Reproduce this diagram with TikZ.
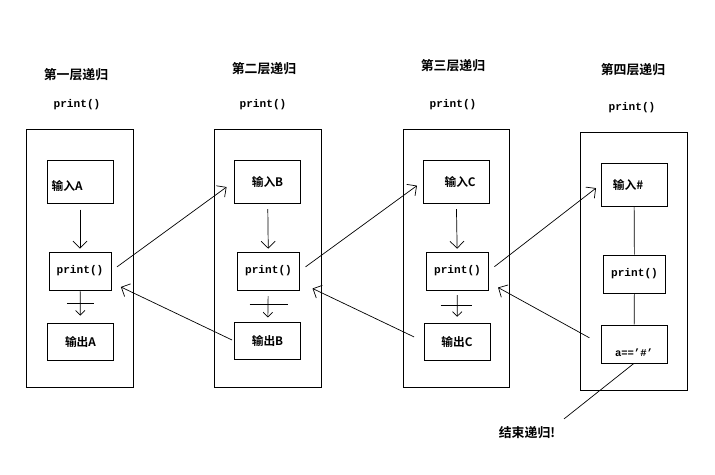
\documentclass[tikz,border=0pt]{standalone}
\usepackage{fontspec}
\setmainfont{Noto Sans CJK SC}[BoldFont={Noto Sans CJK SC Bold}]
\newfontfamily\monobf{Liberation Mono Bold}
\usetikzlibrary{arrows.meta}
\tikzstyle{Rahmen}= [draw,minimum width=3.2cm,minimum height=7.74cm,inner sep=0pt]
\tikzstyle{Kasten}= [draw,minimum width=1.98cm,minimum height=1.29cm,inner sep=0pt,font=\bfseries\fontsize{10}{12}\selectfont]
\tikzstyle{Druck}= [draw,minimum width=1.86cm,minimum height=1.14cm,inner sep=0pt,font=\monobf\fontsize{9.5}{11}\selectfont]
\tikzstyle{Titel}= [font=\bfseries\fontsize{11}{13}\selectfont]
\tikzstyle{Aufruf}= [font=\monobf\fontsize{9.5}{11}\selectfont]
\tikzstyle{Pfeil}= [-{Straight Barb[length=6pt,width=12pt]}]
\tikzstyle{Klein}= [-{Straight Barb[length=4pt,width=8pt]}]

\begin{document}
\begin{tikzpicture}[x=0.03cm,y=-0.03cm,line width=0.6pt]

		\useasboundingbox (0,0) rectangle (715,475);

		% Ebene 1
		\node [Titel] (t1) at (76,75) {第一层递归};
		\node [Aufruf] (l1) at (77,105) {print()};
		\node [Rahmen] (r1) at (80,258) {};
		\node [Kasten] (e1) at (80,182) {\raisebox{-7pt}[0pt][0pt]{输入A}\hspace*{22pt}};
		\node [Druck] (p1) at (80,271) {print()};
		\node [Kasten,minimum height=1.11cm] (a1) at (80.5,341.5) {输出A};

		% Ebene 2
		\node [Titel] (t2) at (264,69) {第二层递归};
		\node [Aufruf] (l2) at (263,105) {print()};
		\node [Rahmen] (r2) at (268,258) {};
		\node [Kasten] (e2) at (267.5,181.5) {输入B};
		\node [Druck] (p2) at (268.5,271) {print()};
		\node [Kasten,minimum height=1.11cm] (a2) at (267.5,341) {输出B};

		% Ebene 3
		\node [Titel] (t3) at (453,66) {第三层递归};
		\node [Aufruf] (l3) at (453,105) {print()};
		\node [Rahmen] (r3) at (456.5,258) {};
		\node [Kasten] (e3) at (456,181.5) {\hspace*{7pt}输入C};
		\node [Druck] (p3) at (457.5,271) {print()};
		\node [Kasten,minimum height=1.11cm] (a3) at (457,341.5) {输出C};

		% Ebene 4
		\node [Titel] (t4) at (633,70) {第四层递归};
		\node [Aufruf] (l4) at (632,108) {print()};
		\node [Rahmen] (r4) at (634,261.5) {};
		\node [Kasten] (e4) at (634,184.5) {输入\#\hspace*{10pt}};
		\node [Druck] (p4) at (634.5,274) {print()};
		\node [Kasten,minimum height=1.14cm,font=\monobf\fontsize{9}{11}\selectfont] (a4) at (634,344) {\raisebox{-11pt}[0pt][0pt]{a==’\#’}};
		\node [Titel] (ende) at (527,433) {结束递归!};

		% nach unten
		\draw[Pfeil,shorten <=5pt,shorten >=2.5pt] (e1) -- (p1);
		\draw[Pfeil,shorten <=5pt,shorten >=2.5pt] (e2) -- (p2);
		\draw[Pfeil,shorten <=5pt,shorten >=2.5pt] (e3) -- (p3);
		\draw (e4) -- (p4);
		\draw (p4) -- (a4);

		\draw[Klein,shorten >=6pt] (p1) -- (a1) coordinate[pos=0.4] (q1);
		\draw ([xshift=-0.4cm]q1) -- ([xshift=0.4cm]q1);
		\draw[Klein,shorten <=5pt,shorten >=4pt] (p2) -- (a2) coordinate[pos=0.45] (q2);
		\draw ([xshift=-0.55cm]q2) -- ([xshift=0.6cm]q2);
		\draw[Klein,shorten <=4pt,shorten >=5pt] (p3) -- (a3) coordinate[pos=0.45] (q3);
		\draw ([xshift=-0.5cm]q3) -- ([xshift=0.45cm]q3);

		% Aufruf
		\draw[Pfeil,shorten <=6pt,shorten >=8pt] (p1.east) -- (e2.west);
		\draw[Pfeil,shorten <=6pt,shorten >=6pt] (p2.east) -- (e3.west);
		\draw[Pfeil,shorten <=6pt,shorten >=5pt] (p3.east) -- (e4.west);

		% Rueckkehr
		\draw[Pfeil,shorten <=2pt,shorten >=9pt] (a2.west) -- (p1.-20);
		\draw[Pfeil,shorten <=9pt,shorten >=12pt] (a3.west) -- (p2.-20);
		\draw[Pfeil,shorten <=11pt,shorten >=9pt] (a4.west) -- (p3.-20);

		\draw[shorten >=5pt] (a4.south) -- (ende.north east);

	\end{tikzpicture}
\end{document}
